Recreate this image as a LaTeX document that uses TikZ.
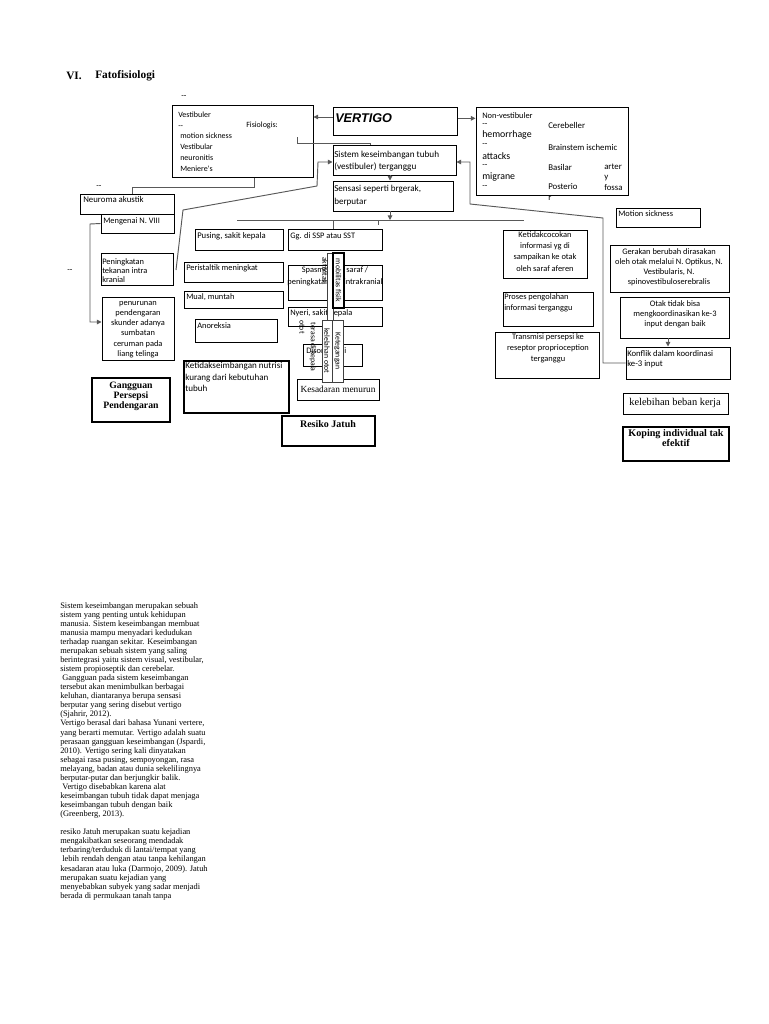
\documentclass[tikz,border=0pt]{standalone}
\usepackage{fontspec}
\setmainfont{Liberation Serif}
\newfontfamily\calf{Carlito}
\newfontfamily\arlf{Liberation Sans}
\usetikzlibrary{arrows.meta,fit}
\newcommand\cfz[2]{\calf\fontsize{#1}{#2}\selectfont}
\newcommand\sfz[2]{\fontsize{#1}{#2}\selectfont}
\newcommand\mkbox[6][bx]{\node[#1,fit={(#3,#4) (#5,#6)}] (#2) {};}
\begin{document}
\begin{tikzpicture}[x=0.75pt,y=-0.75pt,
  bx/.style={draw=black,line width=0.75pt,inner sep=0pt,fill=white},
  bxk/.style={draw=black,line width=1.5pt,inner sep=0pt,fill=white},
  bxt/.style={draw=black!75,line width=0.5pt,inner sep=0pt,fill=white},
  ln/.style={draw=black!65,line width=0.7pt},
  arr/.style={ln,-{Triangle[length=3.5pt,width=3.5pt]}},
  t/.style={inner sep=0pt,font=\cfz{6.3}{8.2}},
  tw/.style={t,anchor=west},
  tn/.style={t,anchor=north west,align=left},
  tc/.style={t,anchor=north,align=center},
  sr/.style={inner sep=0pt,font=\sfz{7}{8}},
  rt/.style={inner sep=0pt,rotate=-90,font=\cfz{5.8}{6}},
]
\fill[white] (0,0) rectangle (768,1024);
\useasboundingbox (0,0) rectangle (768,1024);

% title
\node[anchor=west,inner sep=0pt,font=\bfseries\sfz{8.5}{10}] (h1) at (66,76) {VI.};
\node[anchor=west,inner sep=0pt,font=\bfseries\sfz{8.5}{10}] (h2) at (95,76) {Fatofisiologi};
\node[tw] (d1) at (181,97) {--};
\node[tw] (d2) at (96,187) {--};
\node[tw] (d3) at (67,271) {--};

% ---------- boxes ----------
\mkbox{vest}{172}{105}{313}{177}
\mkbox{vertigo}{333}{107}{457}{135}
\mkbox{sistem}{333}{145}{456}{175}
\mkbox{sensasi}{333}{181}{453}{211}
\mkbox{nonvest}{476}{107}{628}{195}

\mkbox{neuroma}{80}{194}{174}{214}
\mkbox{mengenai}{101}{214}{174}{233}
\mkbox{pening}{101}{253}{173}{285}
\mkbox{penurunan}{102}{297}{174}{360}
\mkbox[bxk]{gangguan}{92}{378}{170}{422}

\mkbox{pusing}{195}{229}{283}{250}
\mkbox{gg}{288}{229}{382}{250}
\mkbox{peris}{184}{262}{283}{282}
\mkbox{mual}{184}{291}{283}{308}
\mkbox{anor}{195}{319}{277}{342}
\mkbox[bxk]{nutrisi}{184}{361}{289}{413}
\mkbox{spasme}{288}{265}{382}{300}
\mkbox{nyeri}{288}{307}{382}{326}
\mkbox{diplo}{303}{344}{362}{366}
\mkbox{sadar}{297}{379}{379}{400}
\mkbox[bxk]{resiko}{282}{416}{375}{446}

\mkbox{cocok}{503}{230}{587}{278}
\mkbox{proses}{503}{292}{593}{326}
\mkbox{transmisi}{495}{332}{599}{378}

\mkbox{motion}{616}{208}{700}{227}
\mkbox{gerakan}{610}{245}{729}{292}
\mkbox{otak}{620}{297}{729}{338}
\mkbox{konflik}{626}{347}{730}{379}
\mkbox{beban}{623}{393}{728}{414}
\mkbox[bxk]{koping}{623}{427}{729}{461}

% ---------- texts ----------
\node[tn,font=\cfz{6}{8.25}] (vest-a) at (178,112) {Vestibuler\\--};
\node[tw,font=\cfz{6}{8.25}] (vest-b) at (246,125) {Fisiologis:};
\node[tn,font=\cfz{6}{8.25}] (vest-c) at (180,133) {motion sickness\\Vestibular\\neuronitis\\Meniere's};
\node[anchor=west,inner sep=0pt,font=\arlf\bfseries\itshape\fontsize{9.5}{10}\selectfont] (vertigo-t) at (335,118) {VERTIGO};
\node[tn,font=\cfz{6.9}{9}] (sistem-t) at (334,151) {Sistem keseimbangan tubuh\\(vestibuler) terganggu};
\node[tn,font=\cfz{6.8}{9.5}] (sensasi-t) at (334,185) {Sensasi seperti brgerak,\\berputar};

\node[tw] (nv1) at (482,116) {Non-vestibuler};
\node[tw] (nv2) at (482,125) {--};
\node[tw,font=\cfz{7.4}{8}] (nv3) at (482,135) {hemorrhage};
\node[tw] (nv4) at (482,145) {--};
\node[tw,font=\cfz{7.4}{8}] (nv5) at (482,156) {attacks};
\node[tw] (nv6) at (482,166) {--};
\node[tw,font=\cfz{7.4}{8}] (nv7) at (482,177) {migrane};
\node[tw] (nv8) at (482,187) {--};
\node[tw,font=\cfz{6.6}{8}] (nv9) at (548,125) {Cerebeller};
\node[tw,font=\cfz{6.6}{8}] (nv10) at (548,147) {Brainstem ischemic};
\node[tw,font=\cfz{6.6}{8}] (nv11) at (548,167) {Basilar};
\node[tw,font=\cfz{6.6}{8}] (nv12) at (604,167) {arter};
\node[tw,font=\cfz{6.6}{8}] (nv13) at (604,178) {y};
\node[tw,font=\cfz{6.6}{8}] (nv14) at (548,187) {Posterio};
\node[tw,font=\cfz{6.6}{8}] (nv15) at (604,188) {fossa};
\node[tw,font=\cfz{6.6}{8}] (nv16) at (548,198) {r};

\node[tw,font=\cfz{6.6}{8}] (neuroma-t) at (83,199) {Neuroma akustik};
\node[tw] (mengenai-t) at (103,221) {Mengenai N. VIII};
\node[tn,font=\cfz{6.3}{6.75}] (pening-t) at (102,258) {Peningkatan\\tekanan intra\\kranial};
\node[tc,font=\cfz{6.3}{7.65}] (penurunan-t) at (138,301) {penurunan\\pendengaran\\skunder adanya\\sumbatan\\ceruman pada\\liang telinga};
\node[anchor=north,align=center,inner sep=0pt,font=\bfseries\sfz{7.3}{7.6}] (gangguan-t) at (131,382) {Gangguan\\Persepsi\\Pendengaran};

\node[tw,font=\cfz{6.5}{8}] (pusing-t) at (197,236) {Pusing, sakit kepala};
\node[tw] (gg-t) at (290,236) {Gg. di SSP atau SST};
\node[tw] (peris-t) at (186,268) {Peristaltik meningkat};
\node[tw] (mual-t) at (186,297) {Mual, muntah};
\node[tw] (anor-t) at (197,326) {Anoreksia};
\node[tn,font=\cfz{6.8}{8.6}] (nutrisi-t) at (185,362) {Ketidakseimbangan nutrisi\\kurang dari kebutuhan\\tubuh};
\node[tc,font=\cfz{6.3}{9}] (spasme-t) at (335,266) {Spasme otot saraf /\\peningkatan TIK intrakranial};
\node[tw] (nyeri-t) at (290,313) {Nyeri, sakit kepala};
\node[tw] (diplo-t) at (306,351) {Disorientasi};
\node[sr] (sadar-t) at (338,389) {Kesadaran menurun};
\node[sr,anchor=north,font=\bfseries\sfz{7.5}{8}] (resiko-t) at (328,420) {Resiko Jatuh};

\node[tc,font=\cfz{6.3}{8.5}] (cocok-t) at (545,231) {Ketidakcocokan\\informasi yg di\\sampaikan ke otak\\oleh saraf aferen};
\node[tn,font=\cfz{6.3}{8.2}] (proses-t) at (504,293) {Proses pengolahan\\informasi terganggu};
\node[tc,font=\cfz{6.3}{8.5}] (transmisi-t) at (548,333) {Transmisi persepsi ke\\reseptor proprioception\\terganggu};

\node[tw] (motion-t) at (618,214) {Motion sickness};
\node[tc,font=\cfz{6.3}{7.7}] (gerakan-t) at (669,248) {Gerakan berubah dirasakan\\oleh otak melalui N. Optikus, N.\\Vestibularis, N.\\spinovestibuloserebralis};
\node[tc,font=\cfz{6.3}{7.6}] (otak-t) at (675,300) {Otak tidak bisa\\mengkoordinasikan ke-3\\input dengan baik};
\node[tn,font=\cfz{6.5}{7.5}] (konflik-t) at (627,350) {Konflik dalam koordinasi\\ke-3 input};
\node[sr,font=\sfz{7.8}{8}] (beban-t) at (675,403) {kelebihan beban kerja};
\node[anchor=north,align=center,inner sep=0pt,font=\bfseries\sfz{7.6}{7.6}] (koping-t) at (676,429) {Koping individual tak\\efektif};

% ---------- connectors ----------
\draw[arr] ([yshift=3pt]vertigo.west) -- ([yshift=3pt]vertigo.west -| vest.east);
\draw[arr] ([yshift=2pt]vertigo.east) -- ([yshift=2pt]vertigo.east -| nonvest.west);

\coordinate (c1) at (297,137);
\coordinate (c2) at (297,143);
\coordinate (c3) at (370,143);
\draw[ln] (c1) -- (c2) -- (c3) -- (c3 |- sistem.north);

\coordinate (p1) at (176,270);
\coordinate (p2) at (183,210);
\coordinate (p3) at (317,186);
\coordinate (p4) at (318,162);
\draw[arr] (p1) -- (p2) -- (p3) -- (p4) -- (p4 -| sistem.west);

\coordinate (v1) at (254,187);
\coordinate (v2) at (132,187);
\draw[ln] (v1 |- vest.south) -- (v1) -- (v2) -- (v2 |- neuroma.north);

\coordinate (m1) at (90,224);
\coordinate (m2) at (90,322);
\draw[arr] (mengenai.west) -- (m1) -- (m2) -- (m2 -| penurunan.west);

\coordinate (k1) at (603,363);
\coordinate (k2) at (603,218);
\coordinate (k3) at (470,204);
\coordinate (k4) at (470,162);
\draw[arr] (konflik.west) -- (k1) -- (k2) -- (k3) -- (k4) -- (k4 -| sistem.east);

\coordinate (o1) at (668,338);
\draw[arr] (o1) -- (o1 |- konflik.north);

\coordinate (s1) at (390,175);
\draw[arr] (s1) -- (s1 |- sensasi.north);

\coordinate (busL) at (237,220);
\coordinate (busR) at (524,220);
\draw[ln] (busL) -- (busR);
\coordinate (s2) at (390,211);
\draw[arr] (s2) -- (s2 |- busL);
\coordinate (g1) at (333,220);
\draw[ln] (g1) -- (g1 |- gg.north);
\coordinate (g2) at (378,220);
\coordinate (g3) at (378,225);
\draw[ln] (g2) -- (g3);

% ---------- overlapping vertical labels ----------
\mkbox[bxt]{va}{327}{253}{333}{320}
\node[rt] (va-t) at (325,270) {aktivitas};
\mkbox[bxk]{vm}{333}{253}{344}{308}
\node[rt] (vm-t) at (vm.center) {mobilitas fisik};
\node[rt] (vo-t) at (302,327) {otot};
\node[rt] (vk-t) at (313,347) {terasa di kepala};
\mkbox[bxt]{k1b}{322}{320}{332}{382}
\node[rt] (k1b-t) at (k1b.center) {kelelahan otot};
\mkbox[bxt]{k2b}{332}{320}{343}{382}
\node[rt] (k2b-t) at (k2b.center) {Ketegangan};

% ---------- paragraph ----------
\node[anchor=north west,align=left,inner sep=0pt,font=\sfz{6.3}{6.8}] (para) at (60,602) {%
Sistem keseimbangan merupakan sebuah\\
sistem yang penting untuk kehidupan\\
manusia. Sistem keseimbangan membuat\\
manusia mampu menyadari kedudukan\\
terhadap ruangan sekitar. Keseimbangan\\
merupakan sebuah sistem yang saling\\
berintegrasi yaitu sistem visual, vestibular,\\
sistem propioseptik dan cerebelar.\\
\ Gangguan pada sistem keseimbangan\\
tersebut akan menimbulkan berbagai\\
keluhan, diantaranya berupa sensasi\\
berputar yang sering disebut vertigo\\
(Sjahrir, 2012).\\
Vertigo berasal dari bahasa Yunani vertere,\\
yang berarti memutar. Vertigo adalah suatu\\
perasaan gangguan keseimbangan (Jspardi,\\
2010). Vertigo sering kali dinyatakan\\
sebagai rasa pusing, sempoyongan, rasa\\
melayang, badan atau dunia sekelilingnya\\
berputar-putar dan berjungkir balik.\\
\ Vertigo disebabkan karena alat\\
keseimbangan tubuh tidak dapat menjaga\\
keseimbangan tubuh dengan baik\\
(Greenberg, 2013).\\[6.8pt]
resiko Jatuh merupakan suatu kejadian\\
mengakibatkan seseorang mendadak\\
terbaring/terduduk di lantai/tempat yang\\
\ lebih rendah dengan atau tanpa kehilangan\\
kesadaran atau luka (Darmojo, 2009). Jatuh\\
merupakan suatu kejadian yang\\
menyebabkan subyek yang sadar menjadi\\
berada di permukaan tanah tanpa};
\end{tikzpicture}
\end{document}
